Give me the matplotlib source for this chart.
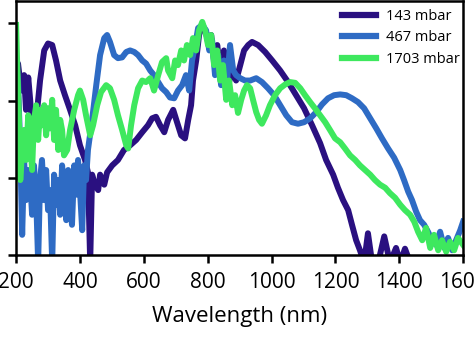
import matplotlib
matplotlib.use('Agg')
import matplotlib.pyplot as plt
import numpy as np

plt.rcParams['font.family'] = ['Open Sans', 'DejaVu Sans']

# 143 mbar
wl_143 = [200, 206, 216, 225, 231, 238, 244, 253, 263, 275, 288, 300, 313, 325, 338, 353, 369, 385,
          400, 416, 425, 432, 438, 447, 457, 463, 476, 485, 501, 519, 538, 557, 576, 595, 613, 626,
          638, 651, 664, 676, 692, 704, 717, 729, 739, 748, 754, 764, 773, 783, 792, 801, 811, 820,
          830, 839, 851, 864, 877, 889, 902, 914, 927, 939, 958, 980, 1002, 1027, 1052, 1077, 1102,
          1127, 1152, 1171, 1193, 1208, 1224, 1240, 1252, 1265, 1277, 1290, 1302, 1315, 1334, 1353,
          1371, 1390, 1403, 1418, 1434, 1460, 1600]
int_143 = [2.39, 2.48, 2.13, 2.33, 1.88, 2.30, 2.01, 1.49, 1.75, 2.26, 2.65, 2.74, 2.72, 2.52, 2.26,
           2.07, 1.88, 1.68, 1.42, 1.23, 1.07, -0.1, 1.04, 0.91, 0.84, 1.04, 0.91, 1.07, 1.16, 1.23,
           1.36, 1.42, 1.49, 1.59, 1.68, 1.77, 1.79, 1.68, 1.59, 1.75, 1.88, 1.72, 1.55, 1.51, 1.75,
           1.94, 2.26, 2.52, 2.85, 2.98, 2.91, 2.78, 2.85, 2.52, 2.72, 2.39, 2.65, 2.20, 2.39, 2.26,
           2.46, 2.65, 2.72, 2.76, 2.72, 2.63, 2.52, 2.39, 2.24, 2.07, 1.90, 1.68, 1.45, 1.23, 1.04,
           0.87, 0.71, 0.58, 0.39, 0.19, 0.06, -0.1, 0.28, -0.1, -0.1, 0.24, -0.1, 0.09, -0.1, 0.08,
           -0.1, -0.1, -0.1]

# 467 mbar
wl_467 = [200, 206, 213, 219, 225, 231, 238, 244, 250, 256, 263, 269, 275, 281, 288, 294, 300, 306,
          313, 319, 325, 332, 338, 344, 350, 357, 363, 369, 375, 382, 388, 394, 400, 407, 413, 419,
          425, 438, 451, 463, 476, 485, 494, 507, 519, 532, 545, 557, 570, 582, 595, 607, 620, 632,
          645, 657, 670, 682, 695, 707, 720, 732, 742, 751, 761, 770, 783, 795, 805, 814, 823, 833,
          842, 851, 861, 870, 880, 889, 902, 917, 933, 952, 970, 989, 1008, 1027, 1046, 1064, 1083,
          1102, 1121, 1140, 1158, 1177, 1196, 1215, 1234, 1252, 1271, 1290, 1309, 1328, 1346, 1365,
          1384, 1403, 1415, 1428, 1440, 1453, 1465, 1478, 1490, 1503, 1515, 1528, 1541, 1553, 1566,
          1578, 1591, 1600]
int_467 = [2.52, 2.26, 1.36, 0.26, 1.23, 0.71, 1.10, 0.97, 0.52, 1.16, 0.71, -0.1, 0.97, 1.23, 0.71,
           1.10, 0.58, 0.84, -0.1, 1.04, 0.65, 0.97, 0.52, 1.16, 0.84, 0.45, 1.10, 0.71, 0.39, 1.16,
           0.78, 1.23, 0.84, 0.32, 1.16, 0.97, 1.36, 1.75, 2.20, 2.59, 2.81, 2.85, 2.76, 2.59, 2.55,
           2.56, 2.63, 2.65, 2.63, 2.59, 2.52, 2.48, 2.39, 2.33, 2.24, 2.16, 2.11, 2.04, 2.03, 2.13,
           2.20, 2.33, 2.13, 2.52, 2.72, 2.94, 2.98, 2.91, 2.65, 2.78, 2.33, 2.59, 2.20, 2.52, 2.26,
           2.72, 2.39, 2.33, 2.29, 2.26, 2.26, 2.29, 2.24, 2.16, 2.07, 1.94, 1.81, 1.72, 1.70, 1.72,
           1.77, 1.85, 1.95, 2.03, 2.07, 2.08, 2.07, 2.03, 1.98, 1.90, 1.77, 1.64, 1.51, 1.38, 1.26,
           1.10, 0.97, 0.82, 0.71, 0.56, 0.45, 0.39, 0.30, 0.19, 0.13, 0.30, 0.09, 0.22, 0.06, 0.19,
           0.32, 0.43]

# 1703 mbar
wl_1703 = [200, 203, 209, 213, 219, 225, 231, 238, 244, 250, 256, 263, 269, 275, 281, 288, 294, 300,
           306, 313, 319, 325, 332, 338, 344, 350, 360, 369, 382, 394, 400, 410, 419, 432, 441, 454,
           466, 482, 494, 507, 519, 532, 545, 551, 560, 570, 582, 595, 607, 620, 632, 645, 657, 670,
           676, 689, 698, 707, 717, 726, 735, 745, 754, 764, 773, 783, 792, 801, 811, 820, 830, 839,
           848, 858, 867, 877, 886, 895, 905, 914, 923, 933, 942, 952, 961, 970, 983, 995, 1011, 1027,
           1043, 1058, 1074, 1090, 1105, 1121, 1136, 1152, 1168, 1183, 1199, 1215, 1230, 1246, 1262,
           1277, 1293, 1309, 1324, 1340, 1356, 1371, 1387, 1403, 1418, 1434, 1447, 1459, 1472, 1484,
           1497, 1509, 1522, 1534, 1547, 1559, 1572, 1584, 1600]
int_1703 = [2.98, 2.52, 1.75, 0.97, 1.36, 1.62, 1.23, 1.81, 1.49, 1.10, 1.75, 1.94, 1.49, 1.88, 1.68,
            1.94, 1.55, 1.90, 1.64, 2.01, 1.49, 1.88, 1.36, 1.75, 1.62, 1.29, 1.36, 1.62, 1.88, 2.07,
            2.13, 2.01, 1.81, 1.55, 1.68, 1.94, 2.11, 2.20, 2.16, 2.01, 1.81, 1.62, 1.42, 1.38, 1.68,
            1.94, 2.16, 2.26, 2.24, 2.29, 2.13, 2.33, 2.50, 2.55, 2.39, 2.29, 2.52, 2.46, 2.65, 2.52,
            2.72, 2.59, 2.81, 2.65, 2.91, 3.02, 2.91, 2.72, 2.85, 2.46, 2.65, 2.26, 2.46, 2.01, 2.26,
            1.94, 2.07, 1.84, 2.01, 2.13, 2.20, 2.16, 2.01, 1.85, 1.75, 1.70, 1.81, 1.94, 2.07, 2.16,
            2.21, 2.24, 2.23, 2.16, 2.07, 1.98, 1.90, 1.81, 1.72, 1.62, 1.51, 1.46, 1.38, 1.29, 1.23,
            1.16, 1.10, 1.04, 0.97, 0.91, 0.87, 0.80, 0.74, 0.65, 0.58, 0.52, 0.43, 0.30, 0.19, 0.35,
            0.09, 0.26, 0.06, 0.19, 0.04, 0.17, 0.06, 0.22, 0.13]

labels = ['143 mbar', '467 mbar', '1703 mbar']
colors = ['#2a1080', '#2e6bc4', '#3ee85e']

fig = plt.figure(figsize=(4.74, 3.55), dpi=100)
ax = fig.add_axes([0.034, 0.282, 0.943, 0.715])

for wl, y, c, lab in zip([wl_143, wl_467, wl_1703], [int_143, int_467, int_1703], colors, labels):
    ax.plot(wl, y, color=c, lw=4.3, label=lab, solid_joinstyle='round')

ax.set_xlim(200, 1600)
ax.set_ylim(0, 3.29)
ax.set_xticks([200, 400, 600, 800, 1000, 1200, 1400, 1600])
ax.set_xticklabels(['200', '400', '600', '800', '1000', '1200', '1400', '1600'])
ax.set_yticks([0, 1, 2, 3])
ax.set_yticklabels([])
ax.tick_params(axis='both', direction='out', length=5.5, width=1.8, labelsize=15, pad=7)
for s in ax.spines.values():
    s.set_linewidth(1.8)
ax.set_xlabel('Wavelength (nm)', fontsize=16, labelpad=9)

leg = ax.legend(loc='upper left', bbox_to_anchor=(0.73, 0.97), frameon=False, fontsize=10.5,
                handlelength=2.3, handletextpad=0.7, labelspacing=0.45, borderpad=0, borderaxespad=0)
for h in leg.get_lines():
    h.set_linewidth(4.5)

fig.savefig('out.png', dpi=100)
